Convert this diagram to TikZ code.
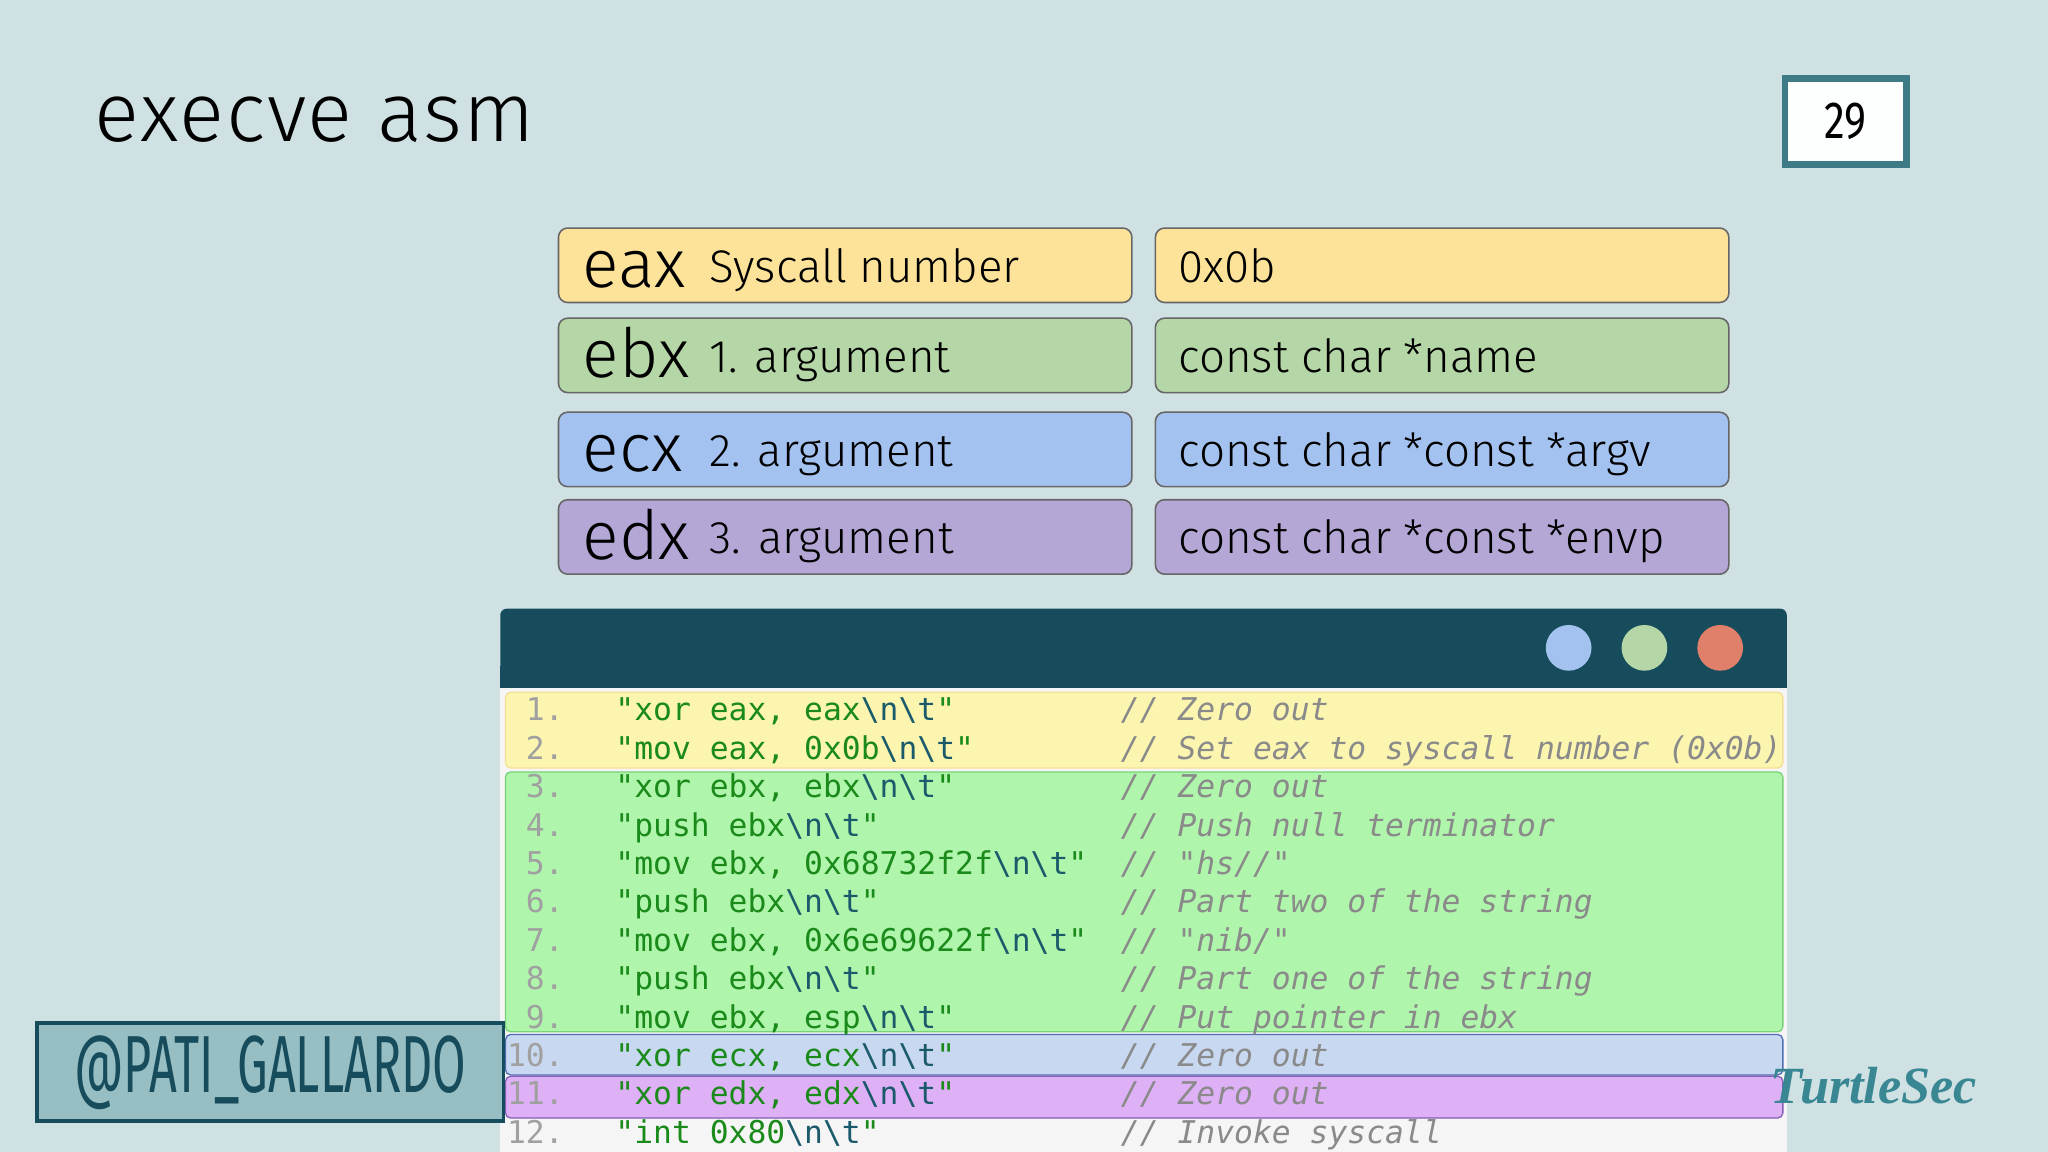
\documentclass[tikz,border=0pt]{standalone}
\usepackage{fontspec}
\setmainfont{Fira Sans Light}
\newfontfamily\codefont{DejaVu Sans Mono}
\newfontfamily\tsfont{Liberation Serif}
\newfontfamily\handfont{Fira Sans}
\definecolor{bg}{HTML}{D0E1E3}
\definecolor{cy}{HTML}{FDE39A}
\definecolor{cg}{HTML}{B5D6A6}
\definecolor{cb}{HTML}{A4C2F0}
\definecolor{cp}{HTML}{B4A7D6}
\definecolor{cr}{HTML}{E07F6A}
\definecolor{hdr}{HTML}{164C5C}
\definecolor{teal}{HTML}{3F7A87}
\definecolor{codeg}{HTML}{1A8A1A}
\definecolor{nlc}{HTML}{1A5A6A}
\definecolor{cmt}{HTML}{8A8A8A}
\definecolor{lnum}{HTML}{A0A0A0}
\newcommand\nt{\textcolor{nlc}{\textbackslash n\textbackslash t}}
\tikzset{
 reg/.style={draw=black!60,line width=1.2pt,rounded corners=7pt,minimum width=439pt,minimum height=57pt,anchor=north west,inner sep=0pt},
 rt/.style={anchor=base west,inner sep=0pt,font=\fontsize{35}{35}\selectfont},
 rn/.style={anchor=base west,inner sep=0pt,font=\fontsize{52}{52}\selectfont},
 lnum/.style={anchor=base west,inner sep=0pt,font=\codefont\fontsize{24}{24}\selectfont,text=lnum},
 codetx/.style={anchor=base west,inner sep=0pt,font=\codefont\fontsize{24}{24}\selectfont,text=codeg},
 cmtx/.style={anchor=base west,inner sep=0pt,font=\codefont\itshape\fontsize{24}{24}\selectfont,text=cmt},
 band/.style={rounded corners=4pt,line width=1pt}
}
\begin{document}
\begin{tikzpicture}[x=1pt,y=-1pt]
\fill[bg] (0,0) rectangle (1568,882);
\useasboundingbox (0,0) rectangle (1568,882);
\clip (0,0) rectangle (1568,882);
\node[anchor=base west,inner sep=0pt,font=\fontsize{64}{64}\selectfont\addfontfeatures{LetterSpace=2}] (title) at (72,108) {execve asm};
\node[draw=teal,line width=5pt,fill=white!95!bg,minimum width=93pt,minimum height=66pt,font=\handfont\fontsize{40}{40}\selectfont] (pg) at (1413,93) {\scalebox{0.8}[1]{29}};
% table
\node[reg,fill=cy] (l1) at (427,174) {};
\node[reg,fill=cy] (r1) at (884,174) {};
\node[reg,fill=cg] (l2) at (427,243) {};
\node[reg,fill=cg] (r2) at (884,243) {};
\node[reg,fill=cb] (l3) at (427,315) {};
\node[reg,fill=cb] (r3) at (884,315) {};
\node[reg,fill=cp] (l4) at (427,382) {};
\node[reg,fill=cp] (r4) at (884,382) {};
\node[rn] (a1) at (446,220) {eax};
\node[rt] (b1) at (543,216) {Syscall number};
\node[rt] (c1) at (902,216) {0x0b};
\node[rn] (a2) at (446,289) {ebx};
\node[rt] (b2) at (543,285) {1. argument};
\node[rt] (c2) at (902,285) {const char *name};
\node[rn] (a3) at (446,361) {ecx};
\node[rt] (b3) at (543,357) {2. argument};
\node[rt] (c3) at (902,357) {const char *const *argv};
\node[rn] (a4) at (446,428) {edx};
\node[rt] (b4) at (543,424) {3. argument};
\node[rt] (c4) at (902,424) {const char *const *envp};
% window
\fill[white!96!black] (383,527) rectangle (1368,900);
\fill[hdr,rounded corners=5pt] (383,466) rectangle (1368,540);
\fill[hdr] (383,510) rectangle (1368,527);
\fill[white!96!black] (383,527) rectangle (1368,540);
\fill[cb] (1201,496) circle[radius=17.5];
\fill[cg] (1259,496) circle[radius=17.5];
\fill[cr] (1317,496) circle[radius=17.5];
\draw[band,fill={rgb,255:red,251;green,245;blue,176},draw={rgb,255:red,245;green,225;blue,150}] (387,530) rectangle (1365,588);
\draw[band,fill={rgb,255:red,176;green,245;blue,172},draw={rgb,255:red,120;green,210;blue,120}] (387,591) rectangle (1365,790);
\draw[band,fill={rgb,255:red,200;green,216;blue,240},draw={rgb,255:red,80;green,110;blue,180}] (387,792) rectangle (1365,823);
\draw[band,fill={rgb,255:red,222;green,176;blue,246},draw={rgb,255:red,130;green,95;blue,180}] (387,824) rectangle (1365,856);
\foreach \ii/\cc [count=\k] in {
 {"xor eax, eax\nt"}/{// Zero out},
 {"mov eax, 0x0b\nt"}/{// Set eax to syscall number (0x0b)},
 {"xor ebx, ebx\nt"}/{// Zero out},
 {"push ebx\nt"}/{// Push null terminator},
 {"mov ebx, 0x68732f2f\nt"}/{// "hs//"},
 {"push ebx\nt"}/{// Part two of the string},
 {"mov ebx, 0x6e69622f\nt"}/{// "nib/"},
 {"push ebx\nt"}/{// Part one of the string},
 {"mov ebx, esp\nt"}/{// Put pointer in ebx},
 {"xor ecx, ecx\nt"}/{// Zero out},
 {"xor edx, edx\nt"}/{// Zero out},
 {"int 0x80\nt"}/{// Invoke syscall}}{
 \node[lnum] (n\k) at (388,{552+29.4*(\k-1)}) {\ifnum\k<10\phantom{0}\fi\k.};
 \node[codetx] (s\k) at (471,{552+29.4*(\k-1)}) {\ii};
 \node[cmtx] (m\k) at (858,{552+29.4*(\k-1)}) {\cc};
}
% handle
\node[draw=hdr,line width=3pt,fill={rgb,255:red,151;green,191;blue,195},minimum width=357pt,minimum height=75pt,anchor=north west,inner sep=0pt] (handle) at (27,782) {};
\node[text=hdr,font=\handfont\fontsize{62}{62}\selectfont] (ht) at (handle.center) {\scalebox{0.6}[1]{@PATI\_GALLARDO}};
\node[text=teal!90!cyan,font=\tsfont\bfseries\itshape\fontsize{40}{40}\selectfont,anchor=base west,inner sep=0pt] (ts) at (1355,845) {TurtleSec};
\end{tikzpicture}
\end{document}
